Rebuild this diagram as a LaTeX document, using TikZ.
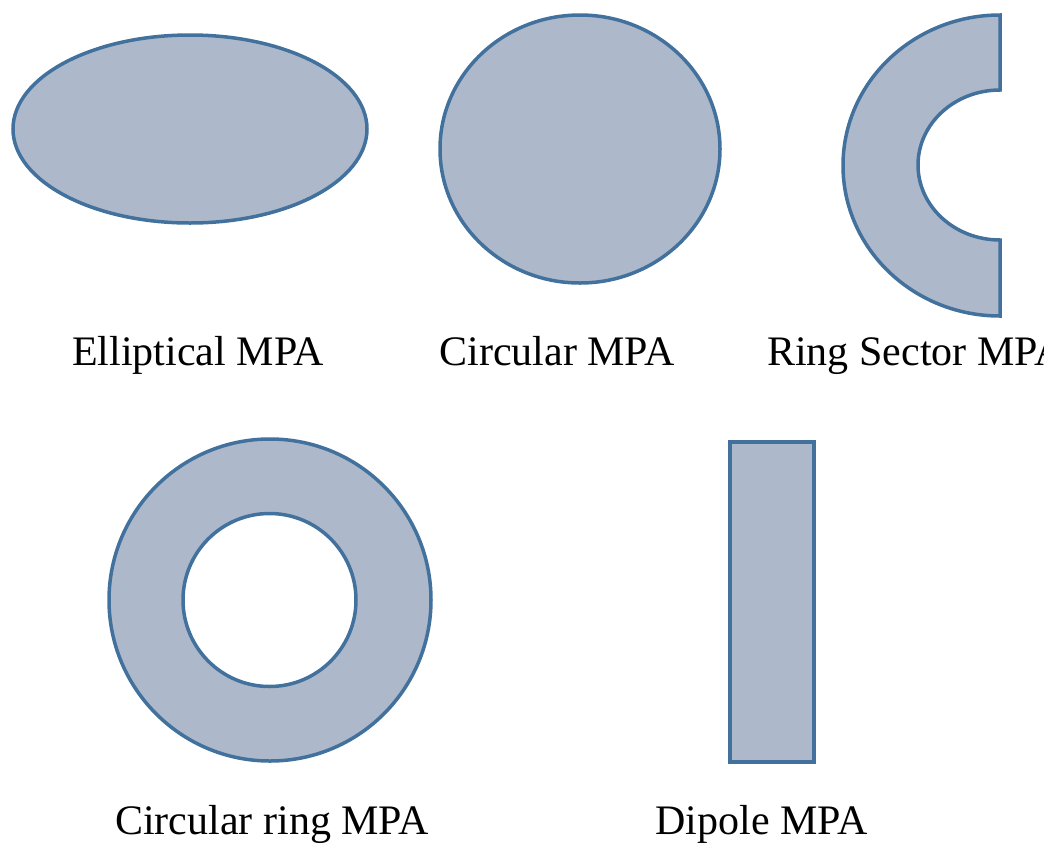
\documentclass[tikz,border=0pt]{standalone}
\usepackage{fontspec}
\setmainfont{Liberation Serif}
\newfontfamily\captionfont{Liberation Serif}
\definecolor{patchFill}{HTML}{ADB9CA}
\definecolor{patchLine}{HTML}{41719C}
\tikzset{
    patch/.style={draw=patchLine, fill=patchFill, line width=3.5pt, even odd rule},
    caption/.style={anchor=base, inner sep=0pt, font=\captionfont\fontsize{42}{50}\selectfont}
}
\newcommand{\patchLabel}[4][caption]{
	\node[#1] (#2) at (#3) {#4};
}
\begin{document}
\begin{tikzpicture}[x=1pt, y=-1pt]
	\useasboundingbox (0,0) rectangle (1044,844);

	% top row
	\draw[patch] (190,129) ellipse [x radius=177, y radius=94];
	\draw[patch] (580,149) ellipse [x radius=140, y radius=134];
	\draw[patch] (1000,15) arc [start angle=-90, end angle=-270, x radius=157, y radius=150.5]
		-- (1000,240) arc [start angle=90, end angle=270, x radius=82, y radius=75] -- cycle;

	% bottom row
	\draw[patch] (270,600) circle [radius=161] (269.5,600) circle [radius=86.5];
	\draw[patch] (730,442) rectangle (814,762);

	\patchLabel{elliptical}{198,365}{Elliptical MPA};
	\patchLabel{circular}{557,365}{Circular MPA};
	\patchLabel[caption, anchor=base west]{sector}{767,365}{Ring Sector MPA};
	\patchLabel{ring}{272,834}{Circular ring MPA};
	\patchLabel{dipole}{761.5,834}{Dipole MPA};
\end{tikzpicture}
\end{document}
